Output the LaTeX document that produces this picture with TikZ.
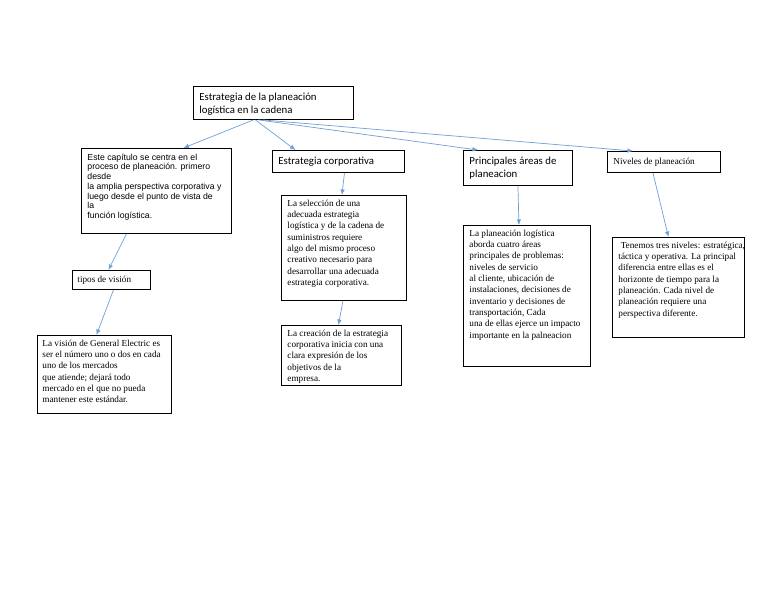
\documentclass[tikz,border=0pt]{standalone}
\usepackage{fontspec}
\setmainfont{Liberation Serif}
\newfontfamily\calfont{Carlito}
\newfontfamily\arfont{Liberation Sans}
\usetikzlibrary{arrows.meta}
\definecolor{arr}{RGB}{110,160,215}
\def\topgap{0pt}
\newcommand\bxt[4][t]{\parbox[t][#3][#1]{#2}{\vspace*{\topgap}\begin{tabular}[t]{@{}l@{}}#4\end{tabular}}}
\begin{document}
\begin{tikzpicture}[x=1pt,y=-1pt,
  box/.style={draw=black, line width=0.9pt, anchor=north west, inner xsep=6pt, inner ysep=3pt},
  ser/.style={font=\fontsize{9.2}{11.3}\selectfont},
  cal/.style={font={\calfont\fontsize{10.8}{13}\selectfont\def\topgap{2pt}}},
  cals/.style={font=\calfont\fontsize{10.8}{13}\selectfont},
  ars/.style={font={\arfont\fontsize{8.7}{9.7}\selectfont\def\topgap{2pt}}},
  conn/.style={draw=arr, line width=0.7pt, -{Latex[length=5.5pt,width=4.5pt]}}]
\useasboundingbox (0,0) rectangle (768,594);
\fill[white] (0,0) rectangle (768,594);

\node[box,cal] (top) at (193,86) {\bxt{148pt}{27pt}{Estrategia de la planeación\\logística en la cadena}};
\node[box,ars] (A) at (81,148) {\bxt{138pt}{79pt}{Este capítulo se centra en el\\proceso de planeación. primero\\desde\\la amplia perspectiva corporativa y\\luego desde el punto de vista de\\la\\función logística.}};
\node[box,cals] (B) at (272,150) {\bxt[c]{120pt}{16pt}{Estrategia corporativa}};
\node[box,cal] (C) at (463,150) {\bxt{97pt}{29pt}{Principales áreas de\\planeacion}};
\node[box,ser] (D) at (607,151) {\bxt[c]{101pt}{15pt}{Niveles de planeación}};
\node[box,ser] (E) at (281,195) {\bxt{113pt}{99pt}{La selección de una\\adecuada estrategia\\logística y de la cadena de\\suministros requiere\\algo del mismo proceso\\creativo necesario para\\desarrollar una adecuada\\estrategia corporativa.}};
\node[box,ser] (F) at (281,325) {\bxt{108pt}{54pt}{La creación de la estrategia\\corporativa inicia con una\\clara expresión de los\\objetivos de la\\empresa.}};
\node[box,ser] (G) at (463,225) {\bxt{115pt}{135pt}{La planeación logística\\aborda cuatro áreas\\principales de problemas:\\niveles de servicio\\al cliente, ubicación de\\instalaciones, decisiones de\\inventario y decisiones de\\transportación, Cada\\una de ellas ejerce un impacto\\importante en la palneacion}};
\node[box,ser] (H) at (612,237) {\bxt{120pt}{94pt}{\ Tenemos tres niveles: estratégica,\\táctica y operativa. La principal\\diferencia entre ellas es el\\horizonte de tiempo para la\\planeación. Cada nivel de\\planeación requiere una\\perspectiva diferente.}};
\node[box,ser,inner xsep=5pt] (I) at (72,270) {\bxt[c]{68pt}{13pt}{tipos de visión}};
\node[box,ser,inner xsep=5pt] (J) at (37,335) {\bxt{124pt}{72pt}{La visión de General Electric es\\ser el número uno o dos en cada\\uno de los mercados\\que atiende; dejará todo\\mercado en el que no pueda\\mantener este estándar.}};

\draw[conn] ([xshift=-20pt]top.south) -- ([xshift=27pt]A.north);
\draw[conn] ([xshift=-18pt]top.south) -- ([xshift=-43pt]B.north);
\draw[conn] ([xshift=-15pt]top.south) -- ([xshift=-40pt]C.north);
\draw[conn] ([xshift=-11pt]top.south) -- ([xshift=-31pt]D.north);
\draw[conn] ([xshift=-30pt]A.south) -- ([xshift=-3pt]I.north);
\draw[conn] ([xshift=2pt]I.south) -- ([xshift=-8pt]J.north);
\draw[conn] ([xshift=6pt]B.south) -- ([xshift=-2pt]E.north);
\draw[conn] ([xshift=-1pt]E.south) -- ([xshift=-3pt]F.north);
\draw[conn] (C.south) -- ([xshift=-8pt]G.north);
\draw[conn] ([xshift=-11pt]D.south) -- ([xshift=-10pt]H.north);
\end{tikzpicture}
\end{document}
